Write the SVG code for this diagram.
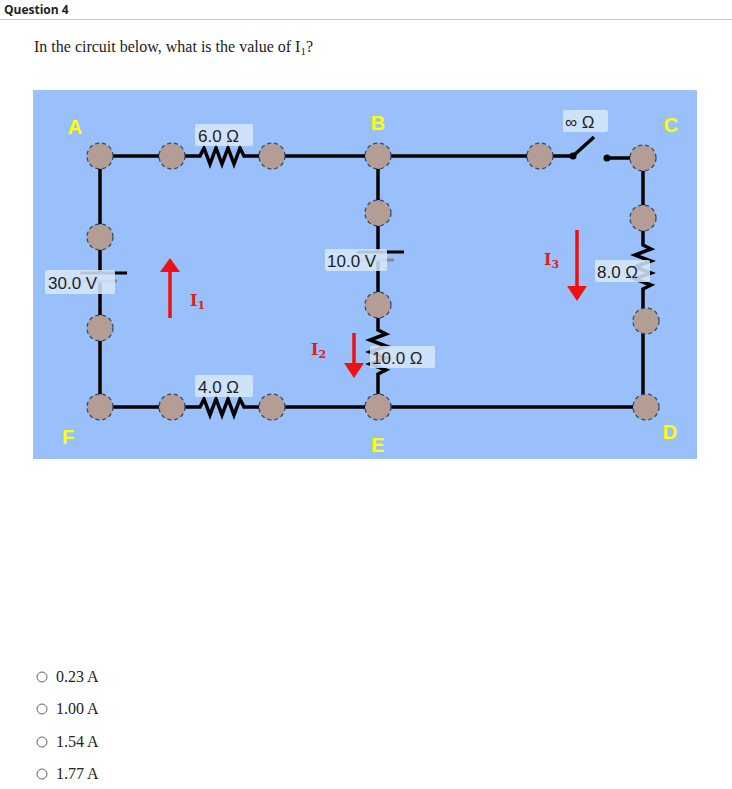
<svg xmlns="http://www.w3.org/2000/svg" width="732" height="789" viewBox="0 0 732 789">
<style>
.w{stroke:#000;stroke-width:3.5;fill:none}
.n{fill:#b39d94;stroke:#3a4a66;stroke-width:1.3;stroke-dasharray:4 3}
.lb{fill:#d8e8fb;fill-opacity:.85}
.t{font-family:"Liberation Sans",Arial,sans-serif;font-size:17px;fill:#222}
.y{font-family:"Liberation Sans",Arial,sans-serif;font-size:20px;font-weight:bold;fill:#ffff00;text-anchor:middle}
.it{font-family:"DejaVu Serif",serif;font-size:16px;font-weight:bold;fill:#e31b1b}
.q{font-family:"Liberation Serif",serif;font-size:16px;fill:#222}
</style>
<rect width="732" height="789" fill="#fff"/>
<text x="4" y="14" font-family="'Open Sans','Liberation Sans',sans-serif" font-size="12" font-weight="bold" fill="#222">Question 4</text>
<line x1="0" y1="19.5" x2="732" y2="19.5" stroke="#ccc"/>
<text x="34" y="52" class="q">In the circuit below, what is the value of I<tspan font-size="11" dy="3">1</tspan><tspan dy="-3">?</tspan></text>
<rect x="33" y="90" width="664" height="369" fill="#99c0fa"/>
<g id="wires">
<path class="w" d="M100 156 H200 l4 -8 l6 16 l6 -16 l6 16 l6 -16 l6 16 l6 -16 l4 8 H540 H573 L594 137"/>
<path class="w" d="M607 158 H643 V245 l8 4 l-16 6 l16 6 l-16 6 l16 6 l-16 6 l16 6 l-8 4 V407"/>
<path class="w" d="M100 156 V273 M100 281 V407 H200 l4 -8 l6 16 l6 -16 l6 16 l6 -16 l6 16 l6 -16 l4 8 H646"/>
<path class="w" d="M378 156 V252 M378 260 V330 l8 4 l-16 6 l16 6 l-16 6 l16 6 l-16 6 l16 6 l-8 4 V407"/>
<circle cx="573" cy="156" r="3.5"/><circle cx="607" cy="158" r="3.5"/>
</g>
<g id="batteries">
<line x1="80" y1="273" x2="127" y2="273" stroke="#000" stroke-width="3"/>
<line x1="78" y1="281" x2="117" y2="281" stroke="#888" stroke-width="3"/>
<line x1="357" y1="252" x2="404" y2="252" stroke="#000" stroke-width="3"/>
<line x1="355" y1="260" x2="394" y2="260" stroke="#888" stroke-width="3"/>
</g>
<g id="nodes">
<circle class="n" cx="100" cy="156" r="13"/><circle class="n" cx="172" cy="156" r="13"/><circle class="n" cx="272" cy="156" r="13"/>
<circle class="n" cx="378" cy="156" r="13"/><circle class="n" cx="540" cy="156" r="13"/><circle class="n" cx="643" cy="158" r="13"/>
<circle class="n" cx="100" cy="237" r="13"/><circle class="n" cx="100" cy="328" r="13"/><circle class="n" cx="100" cy="407" r="13"/>
<circle class="n" cx="172" cy="407" r="13"/><circle class="n" cx="272" cy="407" r="13"/><circle class="n" cx="378" cy="407" r="13"/><circle class="n" cx="646" cy="407" r="13"/>
<circle class="n" cx="378" cy="213" r="13"/><circle class="n" cx="378" cy="305" r="13"/>
<circle class="n" cx="643" cy="218" r="13"/><circle class="n" cx="646" cy="321" r="13"/>
</g>
<g id="labels">
<rect class="lb" x="195" y="124" width="58" height="22" rx="2"/><text class="t" x="198" y="142">6.0 Ω</text>
<rect class="lb" x="195" y="375" width="58" height="22" rx="2"/><text class="t" x="198" y="393">4.0 Ω</text>
<rect class="lb" x="45" y="270" width="70" height="24" rx="2"/><text class="t" x="48" y="289">30.0 V</text>
<rect class="lb" x="325" y="249" width="62" height="22" rx="2"/><text class="t" x="327" y="267">10.0 V</text>
<rect class="lb" x="370" y="346" width="65" height="22" rx="2"/><text class="t" x="372" y="364">10.0 Ω</text>
<rect class="lb" x="595" y="260" width="55" height="22" rx="2"/><text class="t" x="597" y="278">8.0 Ω</text>
<rect class="lb" x="563" y="110" width="45" height="22" rx="2"/><text class="t" x="565" y="128">∞ Ω</text>
<text class="y" x="75" y="134">A</text><text class="y" x="378" y="130">B</text><text class="y" x="671" y="132">C</text>
<text class="y" x="670" y="439">D</text><text class="y" x="378" y="452">E</text><text class="y" x="68" y="444">F</text>
</g>
<g id="currents">
<line x1="170" y1="318" x2="170" y2="268" stroke="#ee1111" stroke-width="3.5"/><path d="M160 272 L170 258 L180 272 Z" fill="#ee1111"/>
<text class="it" x="190" y="306">I<tspan font-size="11" dy="3">1</tspan></text>
<line x1="354" y1="333" x2="354" y2="366" stroke="#ee1111" stroke-width="3.5"/><path d="M344 363 L354 378 L364 363 Z" fill="#ee1111"/>
<text class="it" x="311" y="355">I<tspan font-size="11" dy="3">2</tspan></text>
<line x1="577" y1="230" x2="577" y2="290" stroke="#ee1111" stroke-width="3.5"/><path d="M567 286 L577 301 L587 286 Z" fill="#ee1111"/>
<text class="it" x="544" y="265">I<tspan font-size="11" dy="3">3</tspan></text>
</g>
<g id="options" class="q">
<circle cx="42" cy="677" r="5" fill="#fff" stroke="#666"/><text x="56" y="682">0.23 A</text>
<circle cx="42" cy="709" r="5" fill="#fff" stroke="#666"/><text x="56" y="714">1.00 A</text>
<circle cx="42" cy="742" r="5" fill="#fff" stroke="#666"/><text x="56" y="747">1.54 A</text>
<circle cx="42" cy="774" r="5" fill="#fff" stroke="#666"/><text x="56" y="779">1.77 A</text>
</g>
</svg>
